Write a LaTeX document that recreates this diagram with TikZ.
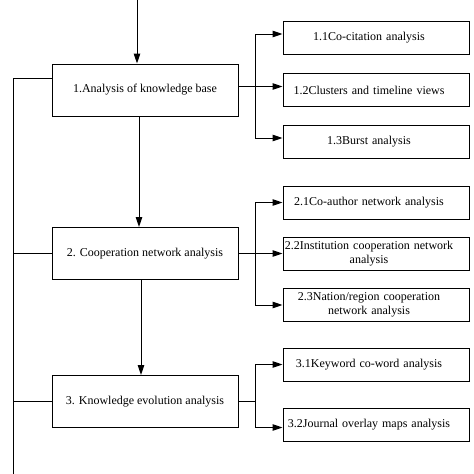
\documentclass[tikz,border=0pt]{standalone}
\usepackage{fontspec}
\setmainfont{Liberation Serif}
\usetikzlibrary{arrows.meta,positioning}

\begin{document}
\begin{tikzpicture}[x=1pt, y=-1pt, font=\fontsize{12}{14}\selectfont]
    \tikzstyle{stage} = [rectangle, draw, line width=1pt, minimum width=186pt,
                         minimum height=52pt, inner sep=0pt]
    \tikzstyle{task} = [rectangle, draw, line width=1pt, text width=186pt,
                        minimum height=33pt, inner sep=0pt, align=center,
                        execute at begin node={\leftskip=0pt plus 1fil
                          \rightskip=14pt plus 1fil \parfillskip=0pt}]
    \tikzstyle{link} = [-{Triangle[length=10pt, width=6.5pt]}, line width=1pt]
    \tikzstyle{bus} = [line width=1pt]

    \useasboundingbox (0,0) rectangle (474,474);

    % Main stages
    \node[stage] (k1) at (145,90) {1.Analysis of knowledge base};
    \node[stage] (k2) at (145,253.5) {2. Cooperation network analysis};
    \node[stage] (k3) at (145,401.5) {3. Knowledge evolution analysis};

    % Sub tasks
    \node[task] (s11) at (376,37.5) {1.1Co-citation analysis};
    \node[task] (s12) at (376,90) {1.2Clusters and timeline views};
    \node[task] (s13) at (376,141.5) {1.3Burst analysis};
    \node[task] (s21) at (376,202.5) {2.1Co-author network analysis};
    \node[task] (s22) at (376,253.5) {2.2Institution cooperation network\\analysis};
    \node[task] (s23) at (376,305) {2.3Nation/region cooperation\\network analysis};
    \node[task] (s31) at (376,364.5) {3.1Keyword co-word analysis};
    \node[task] (s32) at (376,424.5) {3.2Journal overlay maps analysis};

    \coordinate (top) at (137,0);
    \coordinate (base) at (13,474);

    % Main flow
    \draw[link] (top) -- (top |- k1.north);
    \draw[link] ([xshift=-6pt]k1.south) -- ([xshift=-6pt]k2.north);
    \draw[link] ([xshift=-4pt]k2.south) -- ([xshift=-4pt]k3.north);

    % Left bus
    \draw[bus] ([yshift=12pt]k1.west) -| (base);
    \draw[bus] (k2.west) -- (k2.west -| base);
    \draw[bus] (k3.west) -- (k3.west -| base);

    % Branches to sub tasks
    \foreach \s in {s11,s12,s13}
        \draw[link] ([yshift=3.5pt]k1.east) -- ++(17,0) |- ([yshift=3.5pt]\s.west);
    \foreach \s in {s21,s22,s23}
        \draw[link] (k2.east) -- ++(17,0) |- (\s.west);
    \draw[link] (k3.east) -- ++(17,0) |- (s31.west);
    \draw[link] (k3.east) -- ++(17,0) |- ([yshift=-3pt]s32.west);
\end{tikzpicture}
\end{document}
